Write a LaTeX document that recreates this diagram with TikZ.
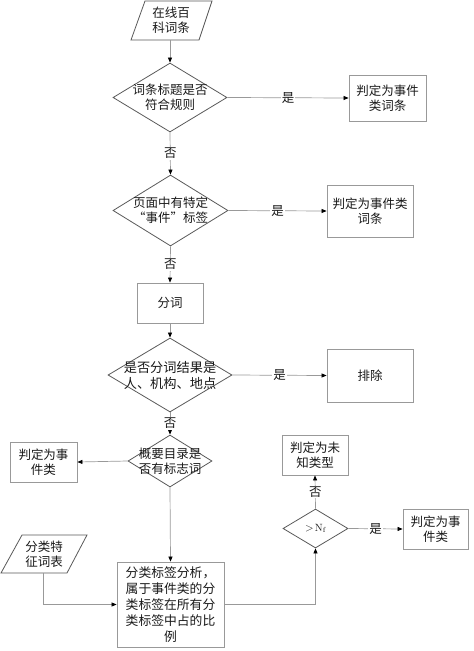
\documentclass[tikz,border=0pt]{standalone}
\usepackage{fontspec}
\newfontfamily\cjk{Noto Sans CJK SC}
\newfontfamily\cjkfw[RawFeature=+fwid]{Noto Sans CJK SC}
\usetikzlibrary{shapes.geometric,arrows.meta}
\begin{document}
\begin{tikzpicture}[x=1pt,y=-1pt,
  every node/.style={font=\cjk\fontsize{12.5}{15}\selectfont, text=black!90},
  box/.style={rectangle, draw=gray!80, line width=0.8pt, inner sep=0pt, align=center},
  dia/.style={diamond, draw=black!65, line width=0.8pt, inner sep=0pt, aspect=1},
  txt/.style={align=center, inner sep=0pt},
  line/.style={draw=gray!80, line width=0.7pt},
  arr/.style={line, -{Triangle[length=5pt,width=4pt,color=black]}},
  lbl/.style={fill=white, inner sep=1pt}]
\useasboundingbox (0,0) rectangle (474,651);
% input parallelogram (top)
\draw[black!65, line width=0.8pt] (145,1) -- (212,1) -- (199,40) -- (131,40) -- cycle;
\node[txt] (p1) at (171,20.5) {在线百\\科词条};
\coordinate (p1b) at (170,40);
% diamonds
\node[dia, minimum width=114pt, minimum height=69pt] (d1) at (170,97.5) {};
\node[txt] at (d1) {词条标题是否\\符合规则};
\node[dia, minimum width=115pt, minimum height=71pt] (d2) at (170.5,210.5) {};
\node[txt] at (d2) {页面中有特定\\{\cjkfw “}事件{\cjkfw ”}标签};
\node[dia, minimum width=124pt, minimum height=74pt] (d3) at (170,375) {};
\node[txt, font=\cjk\fontsize{13.2}{16}\selectfont] at (d3) {是否分词结果是\\人、机构、地点};
\node[dia, minimum width=84pt, minimum height=52pt] (d4) at (170,461) {};
\node[txt] at (d4) {概要目录是\\否有标志词};
\node[dia, minimum width=65pt, minimum height=39pt] (d5) at (315.5,528.5) {};
\node[txt, font=\fontsize{10.5}{12}\selectfont] at (d5) {$>\!\mathrm{N_f}$};
% boxes
\node[box, minimum width=77pt, minimum height=46pt] (b1) at (387.5,98) {判定为事件\\类词条};
\node[box, minimum width=86pt, minimum height=52pt] (b2) at (370,211) {判定为事件类\\词条};
\node[box, minimum width=66pt, minimum height=40pt] (fc) at (170,303) {分词};
\node[box, minimum width=86pt, minimum height=53pt] (pc) at (370,375.5) {排除};
\node[box, minimum width=67pt, minimum height=40pt] (b3) at (43.5,462) {判定为事\\件类};
\node[box, minimum width=107pt, minimum height=85pt, font=\cjk\fontsize{12.8}{16}\selectfont] (an) at (170.5,604.5) {分类标签分析，\\属于事件类的分\\类标签在所有分\\类标签中占的比\\例};
\node[box, minimum width=66pt, minimum height=40pt] (b4) at (315,455) {判定为未\\知类型};
\node[box, minimum width=65pt, minimum height=40pt] (b5) at (435.5,529) {判定为事\\件类};
% input parallelogram (bottom left)
\draw[black!65, line width=0.8pt] (22,535) -- (87,535) -- (67,573) -- (1,573) -- cycle;
\node[txt] (p2) at (44,554) {分类特\\征词表};
\coordinate (p2b) at (43,573);
% connectors
\draw[arr] (p1b) -- (d1.north);
\draw[arr] (d1.east) -- node[lbl]{是} (b1.west);
\draw[arr] (d1.south) -- node[lbl]{否} (d2.north);
\draw[arr] (d2.east) -- node[lbl]{是} (b2.west);
\draw[arr] (d2.south) -- node[lbl]{否} (fc.north);
\draw[arr] (fc.south) -- (d3.north);
\draw[arr] (d3.east) -- node[lbl]{是} (pc.west);
\draw[arr] (d3.south) -- node[lbl]{否} (d4.north);
\draw[arr] (d4.west) -- (b3.east);
\draw[arr] (d4.south) -- (an.north);
\draw[arr] (p2b) |- (an.west);
\draw[arr] (an.east) -| (d5.south);
\draw[arr] (d5.north) -- node[lbl]{否} (b4.south);
\draw[arr] (d5.east) -- node[lbl]{是} (b5.west);
\end{tikzpicture}
\end{document}
